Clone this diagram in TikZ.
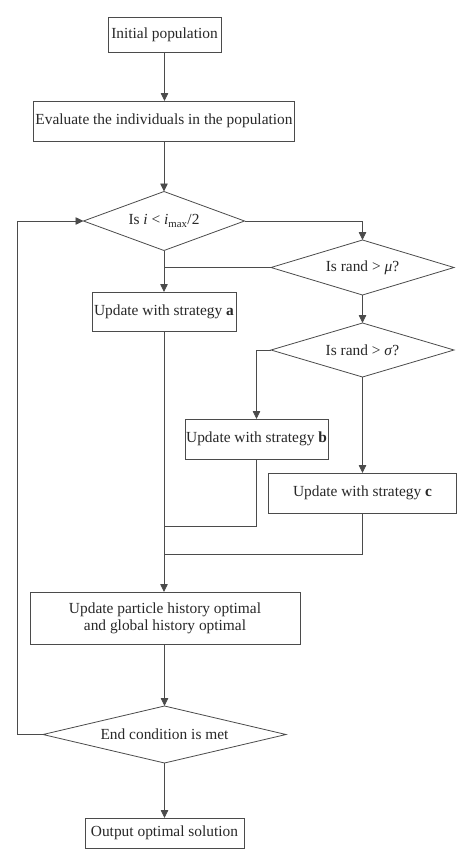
\documentclass[tikz,border=0pt]{standalone}
\usepackage{fontspec}
\setmainfont{Liberation Serif}
\usetikzlibrary{shapes.geometric,arrows.meta}
\definecolor{linecol}{RGB}{75,75,75}
\definecolor{txtcol}{RGB}{40,40,40}
\begin{document}
\begin{tikzpicture}[x=1pt,y=-1pt,
  every node/.style={font=\fontsize{15.4}{17}\selectfont, text=txtcol},
  procbox/.style={draw=linecol, line width=0.8pt, rectangle, inner sep=0pt, outer sep=0pt, align=center},
  decbox/.style={draw=linecol, line width=0.8pt, diamond, inner sep=0pt, outer sep=0pt},
  conn/.style={draw=linecol, line width=0.8pt},
  arr/.style={conn, -{Triangle[length=8pt,width=7.5pt]}}]
\useasboundingbox (0,0) rectangle (474,865);
\fill[white] (0,0) rectangle (474,865);

\node[procbox, minimum width=113pt, minimum height=35pt] (init) at (164.5,34.5) {Initial population};
\node[procbox, minimum width=261pt, minimum height=40pt] (eval) at (164,121) {Evaluate the individuals in the population};
\node[decbox, aspect=2.73, minimum width=161pt, minimum height=59pt] (d1) at (164,221) {Is \textit{i} < \textit{i}\textsubscript{max}/2};
\node[decbox, aspect=3.3, minimum width=183pt, minimum height=55pt] (d2) at (362.5,267.5) {Is rand > \textit{μ}?};
\node[procbox, minimum width=144pt, minimum height=39pt] (sa) at (164,311.5) {Update with strategy \textbf{a}};
\node[decbox, aspect=3.3, minimum width=183pt, minimum height=54pt] (d3) at (362.5,350) {Is rand > \textit{σ}?};
\node[procbox, minimum width=143pt, minimum height=40pt] (sb) at (256.5,439) {Update with strategy \textbf{b}};
\node[procbox, minimum width=188pt, minimum height=40pt] (sc) at (362.5,493) {Update with strategy \textbf{c}};
\node[procbox, minimum width=270pt, minimum height=52pt] (up) at (165,618) {Update particle history optimal\\and global history optimal};
\node[decbox, aspect=4.26, minimum width=243pt, minimum height=57pt] (end) at (164.5,734.5) {End condition is met};
\node[procbox, minimum width=159pt, minimum height=30pt] (out) at (164.5,833) {Output optimal solution};

\coordinate (j1) at (164,267.5);
\coordinate (j2) at (164,526);
\coordinate (j3) at (164,554);
\coordinate (lp) at (17,734.5);

\draw[arr] (init.south) -- (init.south |- eval.north);
\draw[arr] (eval.south) -- (eval.south -| d1.north) -- (d1.north);
\draw[arr] (d1.east) -| (d2.north);
\draw[arr] (d1.south) -- (sa.north);
\draw[conn] (d2.west) -- (j1);
\draw[arr] (d2.south) -- (d3.north);
\draw[arr] (d3.west) -| (sb.north);
\draw[arr] (d3.south) -- (sc.north);
\draw[conn] (sb.south) |- (j2);
\draw[conn] (sc.south) |- (j3);
\draw[arr] (sa.south) -- (sa.south |- up.north);
\draw[arr] (up.south -| end.north) -- (end.north);
\draw[arr] (end.west) -- (lp) |- (d1.west);
\draw[arr] (end.south) -- (out.north);
\end{tikzpicture}
\end{document}
